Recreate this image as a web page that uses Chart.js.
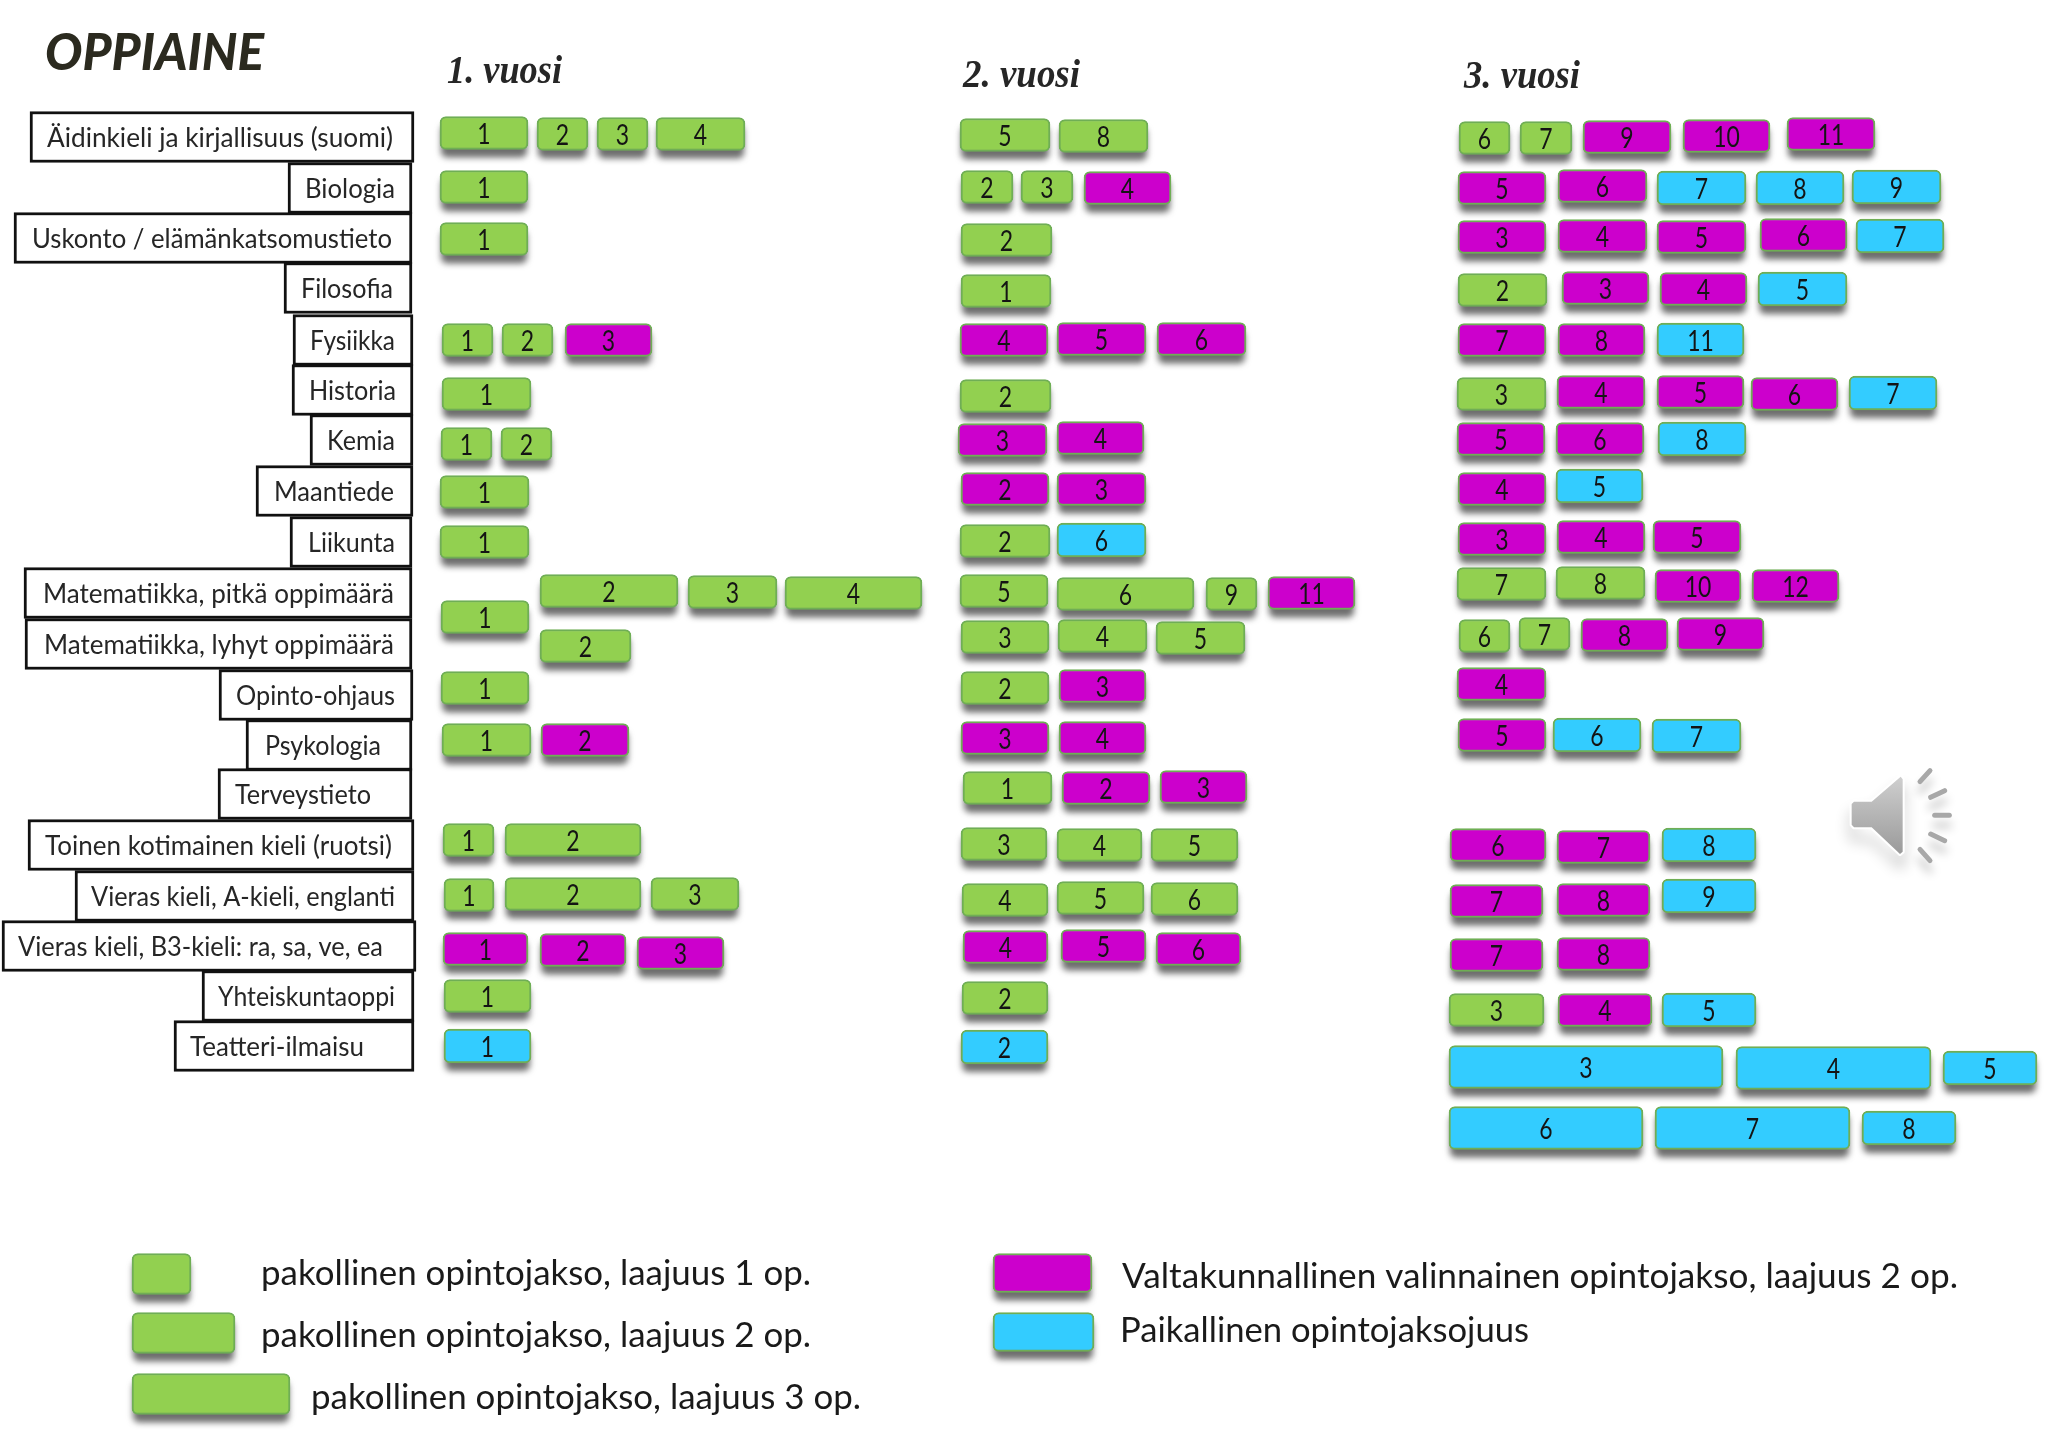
<!DOCTYPE html>
<html>
<head>
<meta charset="utf-8">
<style>
    html, body { margin: 0; padding: 0; background: #fff; }
    canvas { display: block; }
</style>
</head>
<body>
<canvas id="myChart" width="2048" height="1442"></canvas>

<script src="https://cdn.jsdelivr.net/npm/chart.js"></script>

<script>

    // subjects: name, left edge, right edge, middle of the row, text start, text width
    const subjects = [
        ['Äidinkieli ja kirjallisuus (suomi)', 30, 414, 137, 47, 346],
        ['Biologia', 288, 412, 188, 305, 90],
        ['Uskonto / elämänkatsomustieto', 14, 412, 238, 32, 360],
        ['Filosofia', 284, 412, 288, 301, 92],
        ['Fysiikka', 293, 413, 340, 310, 85],
        ['Historia', 292, 413, 390, 309, 87],
        ['Kemia', 310, 413, 440, 327, 68],
        ['Maantiede', 256, 413, 491, 274, 120],
        ['Liikunta', 290, 412, 542, 308, 87],
        ['Matematiikka, pitkä oppimäärä', 24, 412, 593, 43, 351],
        ['Matematiikka, lyhyt oppimäärä', 25, 412, 644, 44, 350],
        ['Opinto-ohjaus', 219, 413, 695, 236, 159],
        ['Psykologia', 246, 412, 745, 265, 116],
        ['Terveystieto', 218, 412, 794, 235, 136],
        ['Toinen kotimainen kieli (ruotsi)', 28, 414, 845, 45, 347],
        ['Vieras kieli, A-kieli, englanti', 75, 414, 896, 91, 304],
        ['Vieras kieli, B3-kieli: ra, sa, ve, ea', 2, 416, 946, 18, 365],
        ['Yhteiskuntaoppi', 202, 414, 996, 218, 177],
        ['Teatteri-ilmaisu', 174, 414, 1046, 190, 174]
    ];

    // course bars: number, start, end, row
    const compulsory = [
        ['1', 440, 528, 133], ['2', 537, 588, 134], ['3', 597, 648, 134], ['4', 656, 745, 134],
        ['1', 440, 528, 187], ['1', 440, 528, 239],
        ['1', 442, 493, 340], ['2', 502, 553, 340],
        ['1', 442, 531, 394],
        ['1', 441, 492, 444], ['2', 501, 552, 444],
        ['1', 440, 529, 492], ['1', 440, 529, 542],
        ['1', 441, 529, 617], ['2', 540, 678, 591], ['3', 688, 777, 592], ['4', 785, 922, 593],
        ['2', 540, 631, 646], ['1', 441, 529, 688], ['1', 442, 531, 740],
        ['1', 443, 494, 840], ['2', 505, 641, 840],
        ['1', 444, 494, 895], ['2', 505, 641, 894], ['3', 651, 739, 894],
        ['1', 444, 531, 996],
        ['5', 960, 1050, 135], ['8', 1059, 1148, 136],
        ['2', 961, 1013, 187], ['3', 1021, 1073, 187],
        ['2', 961, 1052, 240], ['1', 961, 1051, 291], ['2', 960, 1051, 396],
        ['2', 960, 1050, 541],
        ['5', 960, 1048, 591], ['6', 1057, 1194, 594], ['9', 1206, 1257, 594],
        ['3', 961, 1049, 637], ['4', 1058, 1147, 636], ['5', 1156, 1245, 638],
        ['2', 961, 1049, 688], ['1', 963, 1052, 788],
        ['3', 961, 1047, 844], ['4', 1057, 1142, 845], ['5', 1151, 1238, 845],
        ['4', 962, 1048, 900], ['5', 1057, 1144, 898], ['6', 1151, 1238, 899],
        ['2', 962, 1048, 998],
        ['6', 1459, 1510, 138], ['7', 1520, 1572, 138],
        ['2', 1458, 1547, 290], ['3', 1457, 1546, 394],
        ['7', 1457, 1546, 584], ['8', 1556, 1645, 583],
        ['6', 1459, 1510, 636], ['7', 1519, 1570, 634],
        ['3', 1449, 1544, 1010]
    ];

    const national = [
        ['3', 565, 652, 340], ['2', 541, 629, 740],
        ['1', 443, 528, 949], ['2', 540, 626, 950], ['3', 637, 724, 953],
        ['4', 1084, 1171, 188],
        ['4', 960, 1048, 340], ['5', 1057, 1146, 339], ['6', 1157, 1246, 339],
        ['3', 958, 1047, 440], ['4', 1057, 1144, 438],
        ['2', 961, 1049, 489], ['3', 1057, 1146, 489],
        ['11', 1268, 1355, 593], ['3', 1059, 1146, 686],
        ['3', 961, 1049, 738], ['4', 1059, 1146, 738],
        ['2', 1062, 1150, 788], ['3', 1160, 1247, 787],
        ['4', 963, 1048, 947], ['5', 1061, 1146, 946], ['6', 1156, 1241, 949],
        ['9', 1583, 1671, 137], ['10', 1683, 1770, 136], ['11', 1787, 1875, 134],
        ['5', 1458, 1546, 188], ['6', 1558, 1647, 186],
        ['3', 1458, 1546, 237], ['4', 1558, 1647, 236], ['5', 1657, 1746, 237], ['6', 1760, 1847, 235],
        ['3', 1562, 1649, 288], ['4', 1660, 1747, 289],
        ['7', 1458, 1546, 340], ['8', 1558, 1645, 340],
        ['4', 1557, 1645, 392], ['5', 1657, 1744, 392], ['6', 1751, 1838, 394],
        ['5', 1457, 1545, 439], ['6', 1556, 1644, 439],
        ['4', 1458, 1546, 489],
        ['3', 1458, 1546, 539], ['4', 1557, 1645, 537], ['5', 1653, 1741, 537],
        ['10', 1655, 1741, 586], ['12', 1752, 1839, 586],
        ['8', 1581, 1668, 635], ['9', 1677, 1764, 634],
        ['4', 1457, 1546, 684], ['5', 1458, 1546, 735],
        ['6', 1450, 1546, 845], ['7', 1557, 1650, 847],
        ['7', 1450, 1543, 901], ['8', 1557, 1650, 900],
        ['7', 1450, 1543, 955], ['8', 1557, 1650, 954],
        ['4', 1558, 1652, 1010]
    ];

    const local = [
        ['1', 444, 531, 1046],
        ['6', 1057, 1146, 540], ['2', 961, 1048, 1047],
        ['7', 1657, 1746, 188], ['8', 1756, 1844, 188], ['9', 1852, 1941, 187],
        ['7', 1856, 1944, 236], ['5', 1758, 1847, 289], ['11', 1657, 1744, 340],
        ['7', 1849, 1937, 393], ['8', 1658, 1746, 439], ['5', 1556, 1643, 486],
        ['6', 1553, 1641, 735], ['7', 1652, 1741, 736],
        ['8', 1662, 1756, 845], ['9', 1662, 1756, 896], ['5', 1662, 1756, 1010],
        ['5', 1943, 2037, 1068], ['8', 1862, 1956, 1128]
    ];

    const localLong = [
        ['3', 1449, 1723, 1067], ['4', 1736, 1931, 1068],
        ['6', 1449, 1643, 1128], ['7', 1655, 1850, 1128]
    ];

    // legend swatches
    const legendCompulsory = [['', 132, 191, 1274], ['', 132, 235, 1333], ['', 132, 290, 1394]];
    const legendNational = [['', 993, 1092, 1273]];
    const legendLocal = [['', 993, 1094, 1332]];

    const legendTexts = [
        ['pakollinen opintojakso, laajuus 1 op.', 261, 1274, 550],
        ['pakollinen opintojakso, laajuus 2 op.', 261, 1336, 550],
        ['pakollinen opintojakso, laajuus 3 op.', 311, 1398, 550],
        ['Valtakunnallinen valinnainen opintojakso, laajuus 2 op.', 1122, 1277, 836],
        ['Paikallinen opintojaksojuus', 1120, 1331, 409]
    ];

    const yearTitles = [['1. vuosi', 447, 73, 115], ['2. vuosi', 963, 77, 117], ['3. vuosi', 1464, 78, 116]];

    const GREEN = '#92d050', MAGENTA = '#cc00cc', CYAN = '#33ccff', EDGE = '#6fae55';

    function toPoints(list) {
        return list.map(([label, start, end, row]) => ({ x: [start, end], y: row, label: label }));
    }

    function courseDataset(list, color, thickness) {
        return {
            data: toPoints(list),
            backgroundColor: color,
            borderColor: EDGE,
            borderWidth: 2,
            borderRadius: 6,
            borderSkipped: false,
            barThickness: thickness,
            hasShadow: true
        };
    }

    const subjectDataset = {
        data: subjects.map(([name, left, right, row, textStart, textWidth]) => ({
            x: [left, right], y: row, label: name, textStart: textStart, textWidth: textWidth
        })),
        backgroundColor: '#ffffff',
        borderColor: '#111111',
        borderWidth: 3,
        borderSkipped: false,
        barThickness: 51,
        isSubject: true
    };

    // calibri is not there, Lato is close but the width differs so text gets squeezed
    function fitText(ctx, text, x, y, font, color, width, align, squeeze = 1) {
        ctx.save();
        ctx.font = font;
        ctx.fillStyle = color;
        ctx.textBaseline = 'middle';
        ctx.textAlign = 'left';
        const w = ctx.measureText(text).width;
        const sx = width ? width / w : squeeze;
        ctx.translate(align === 'center' ? x - w * sx / 2 : x, y);
        ctx.scale(sx, 1);
        ctx.fillText(text, 0, 0);
        ctx.restore();
    }

    function drawSpeaker(ctx) {
        ctx.save();
        ctx.translate(1780, 740);
        ctx.scale(1 / 3, 1 / 3);
        ctx.lineJoin = 'round';
        ctx.lineCap = 'round';

        ctx.shadowColor = 'rgba(0,0,0,0.3)';
        ctx.shadowBlur = 14;
        ctx.shadowOffsetY = 12;
        const grad = ctx.createLinearGradient(0, 110, 0, 342);
        grad.addColorStop(0, '#cfcfcf');
        grad.addColorStop(1, '#9a9a9a');
        ctx.beginPath();
        ctx.moveTo(222, 185);
        ctx.lineTo(275, 185);
        ctx.lineTo(362, 110);
        ctx.lineTo(368, 118);
        ctx.lineTo(368, 335);
        ctx.lineTo(360, 342);
        ctx.lineTo(275, 262);
        ctx.lineTo(222, 262);
        ctx.lineTo(215, 254);
        ctx.lineTo(215, 192);
        ctx.closePath();
        ctx.fillStyle = '#ffffff';
        ctx.strokeStyle = '#ffffff';
        ctx.lineWidth = 12;
        ctx.stroke();
        ctx.shadowColor = 'transparent';
        ctx.fillStyle = grad;
        ctx.fill();

        const ticks = [[420, 125, 450, 92], [452, 172, 494, 152], [464, 226, 508, 226], [452, 282, 494, 302], [420, 328, 450, 362]];
        ctx.shadowColor = 'rgba(0,0,0,0.25)';
        ctx.shadowBlur = 10;
        ctx.shadowOffsetY = 10;
        ctx.strokeStyle = '#a8a8a8';
        ctx.lineWidth = 15;
        ticks.forEach(t => {
            ctx.beginPath();
            ctx.moveTo(t[0], t[1]);
            ctx.lineTo(t[2], t[3]);
            ctx.stroke();
        });
        ctx.restore();
    }

    const shadowPlugin = {
        id: 'barShadow',
        beforeDatasetsDraw(chart) {
            const ctx = chart.ctx;
            ctx.save();
            ctx.filter = 'blur(3px)';
            ctx.fillStyle = 'rgba(85,85,85,0.85)';
            chart.data.datasets.forEach((ds, i) => {
                if (!ds.hasShadow) return;
                chart.getDatasetMeta(i).data.forEach(el => {
                    const p = el.getProps(['x', 'y', 'base', 'height'], true);
                    ctx.beginPath();
                    ctx.roundRect(p.base + 1, p.y - p.height / 2 + 8, p.x - p.base - 2, p.height, 6);
                    ctx.fill();
                });
            });
            ctx.restore();
        }
    };

    const textPlugin = {
        id: 'barText',
        afterDatasetsDraw(chart) {
            const ctx = chart.ctx;
            chart.data.datasets.forEach((ds, i) => {
                chart.getDatasetMeta(i).data.forEach((el, j) => {
                    const item = ds.data[j];
                    if (!item.label) return;
                    const p = el.getProps(['x', 'y', 'base'], true);
                    if (ds.isSubject) {
                        fitText(ctx, item.label, item.textStart, p.y + 1, '27px Lato', '#262626', item.textWidth);
                    } else {
                        fitText(ctx, item.label, (p.x + p.base) / 2, p.y + 2, '28px Lato', '#141414', null, 'center', 0.82);
                    }
                });
            });

            fitText(ctx, 'OPPIAINE', 45, 53, 'italic 900 52px Lato', '#2b2a1f', 219);

            yearTitles.forEach(([text, x, y, width]) => {
                fitText(ctx, text, x, y, 'italic bold 40px "Liberation Serif"', '#262626', width);
            });

            legendTexts.forEach(([text, x, y, width]) => {
                fitText(ctx, text, x, y, '34px Lato', '#1a1a1a', width);
            });

            drawSpeaker(ctx);
        }
    };

    const ctx = document.getElementById('myChart').getContext('2d');

    new Chart(ctx, {
        type: 'bar',
        data: {
            datasets: [
                courseDataset(compulsory, GREEN, 33),
                courseDataset(national, MAGENTA, 33),
                courseDataset(local, CYAN, 34),
                courseDataset(localLong, CYAN, 43),
                courseDataset(legendCompulsory, GREEN, 41),
                courseDataset(legendNational, MAGENTA, 39),
                courseDataset(legendLocal, CYAN, 39),
                subjectDataset
            ]
        },
        options: {
            indexAxis: 'y',
            responsive: false,
            devicePixelRatio: 1,
            animation: false,
            grouped: false,
            layout: { padding: 0 },
            scales: {
                x: { type: 'linear', min: 0, max: 2048, display: false },
                y: { type: 'linear', min: 0, max: 1442, reverse: true, offset: false, display: false }
            },
            plugins: {
                legend: { display: false },
                tooltip: { enabled: false }
            }
        },
        plugins: [shadowPlugin, textPlugin]
    });

</script>
</body>
</html>
